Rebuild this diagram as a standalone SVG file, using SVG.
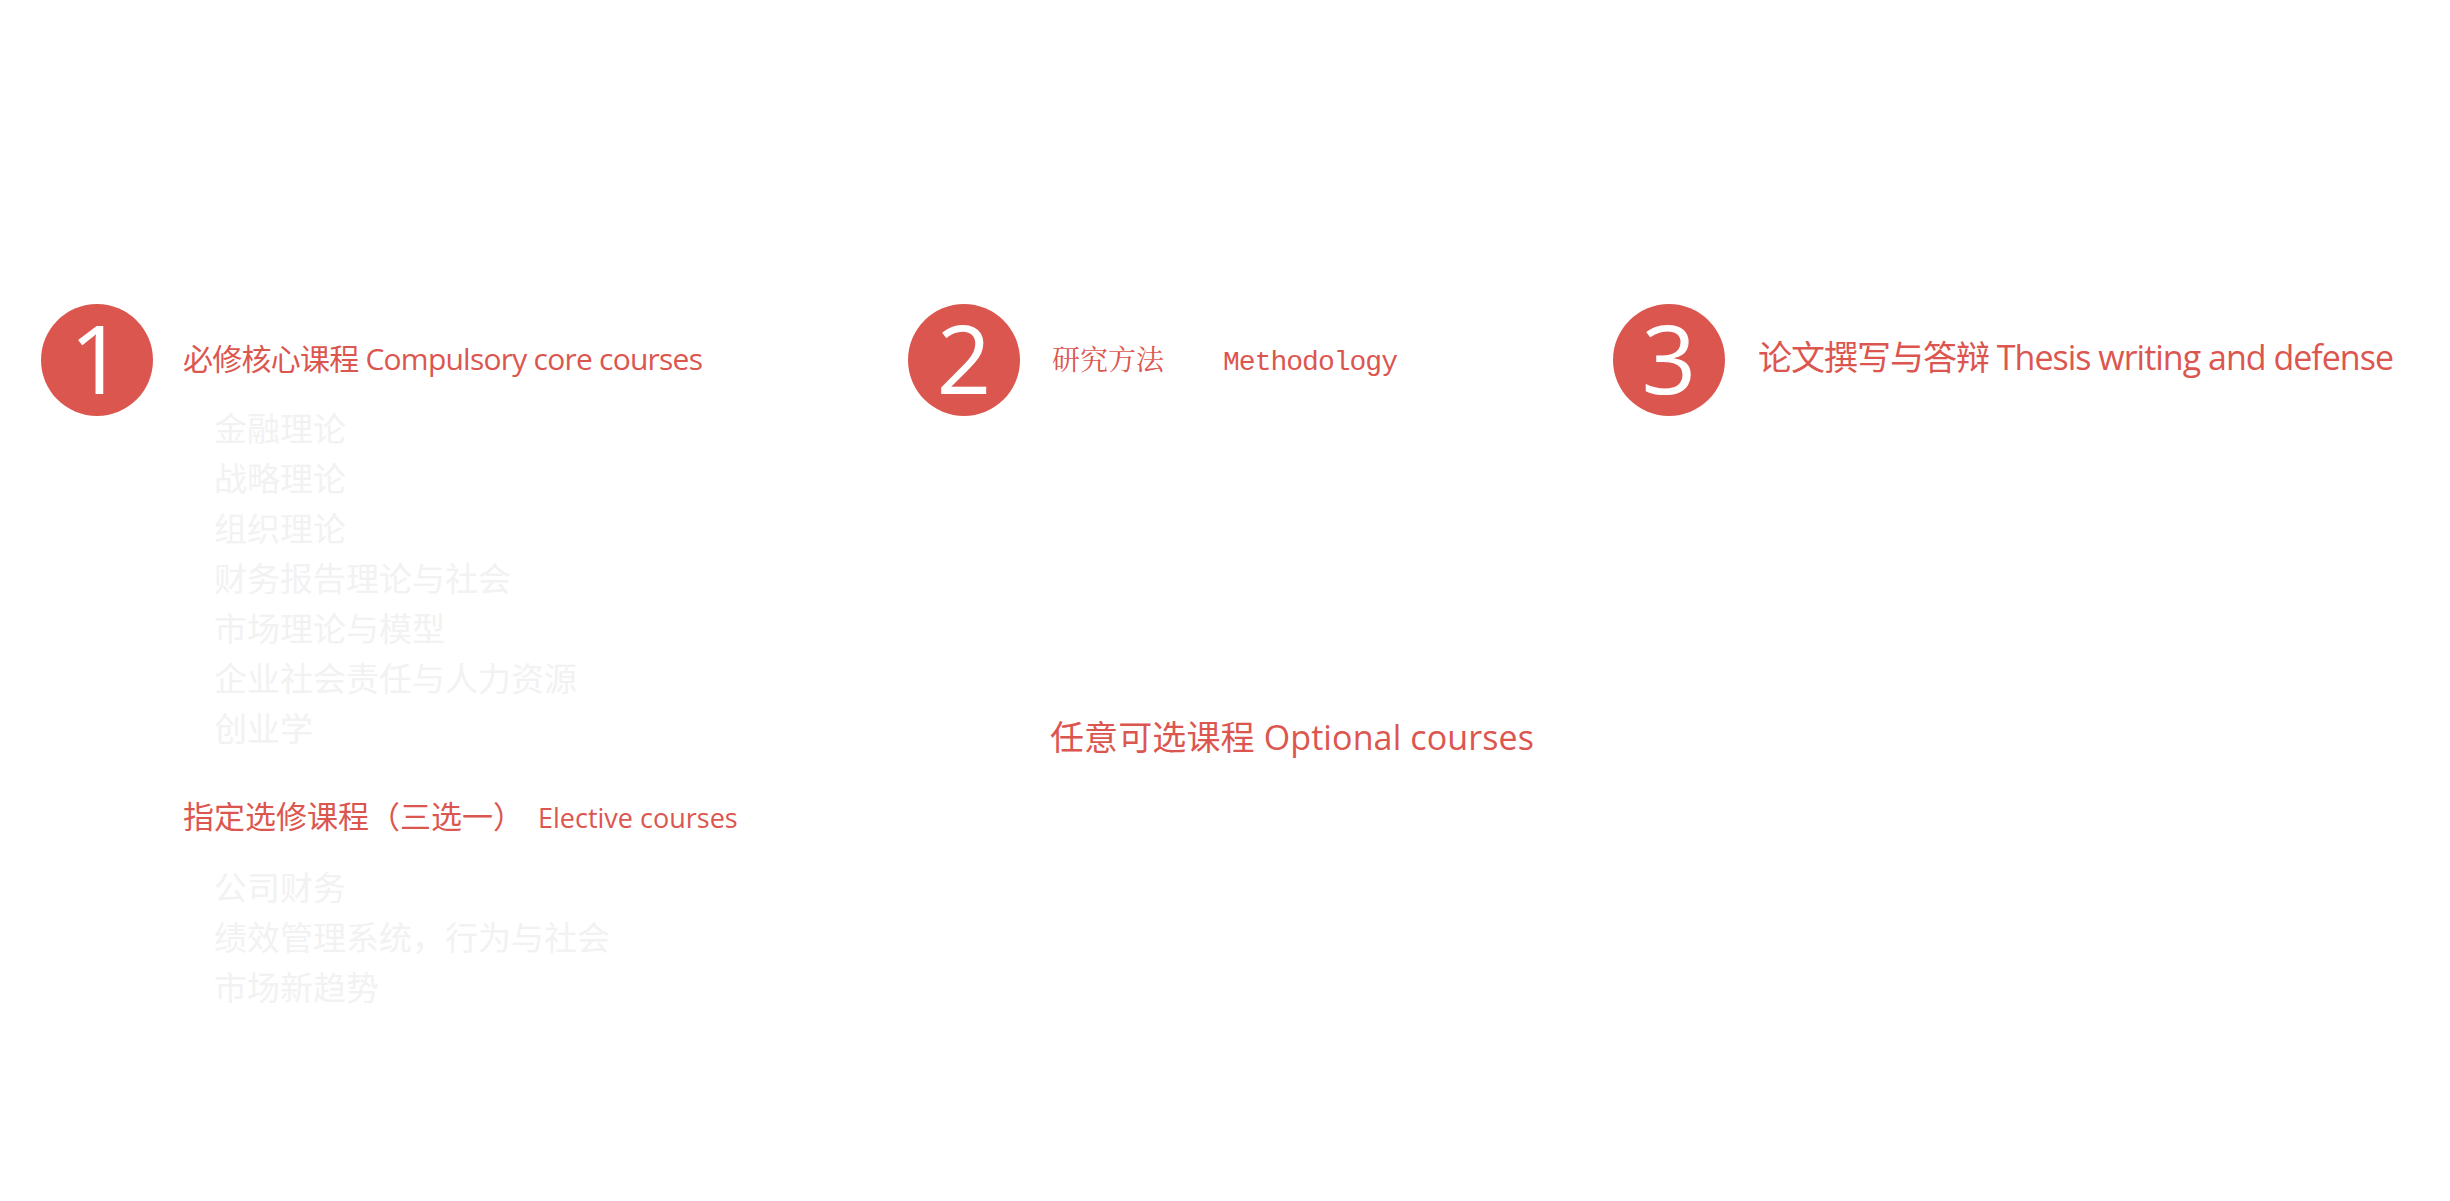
<svg xmlns="http://www.w3.org/2000/svg" width="2450" height="1201" viewBox="0 0 2450 1201">
<style>
.c{fill:#dc5650}
.n{font-family:"Open Sans","Liberation Sans",sans-serif;fill:#fff;text-anchor:middle;font-size:96px}
.h{font-family:"Open Sans","Noto Sans CJK SC",sans-serif;fill:#dc5650}
.g{font-family:"Noto Sans CJK SC",sans-serif;fill:#f2f2f2;font-size:33px}
</style>
<rect width="2450" height="1201" fill="#fff"/>
<g id="step1">
<circle class="c" cx="97" cy="360" r="56"/>
<text class="n" x="97" y="394">1</text>
<text class="h" x="183" y="370" font-size="30" textLength="520">必修核心课程 Compulsory core courses</text>
</g>
<g id="core-list" class="g">
<text class="g" x="214" y="441">金融理论</text>
<text class="g" x="214" y="491">战略理论</text>
<text class="g" x="214" y="541">组织理论</text>
<text class="g" x="214" y="591">财务报告理论与社会</text>
<text class="g" x="214" y="641">市场理论与模型</text>
<text class="g" x="214" y="691">企业社会责任与人力资源</text>
<text class="g" x="214" y="741">创业学</text>
</g>
<g id="elective">
<text class="h" x="183" y="828" font-size="31">指定选修课程（三选一）<tspan font-size="27" dx="14">Elective  courses</tspan></text>
<text class="g" x="214" y="900">公司财务</text>
<text class="g" x="214" y="950">绩效管理系统，行为与社会</text>
<text class="g" x="214" y="1000">市场新趋势</text>
</g>
<g id="step2">
<circle class="c" cx="964" cy="360" r="56"/>
<text class="n" x="964" y="394">2</text>
<text x="1052" y="370" font-size="28" fill="#dc5650" font-family="'Noto Serif CJK SC','Liberation Serif',serif">研究方法</text>
<text x="1223" y="370" font-size="28" fill="#dc5650" font-family="'Liberation Mono',monospace" textLength="175">Methodology</text>
</g>
<g id="step3">
<circle class="c" cx="1669" cy="360" r="56"/>
<text class="n" x="1669" y="394">3</text>
<text class="h" x="1758" y="370" font-size="34" textLength="636">论文撰写与答辩 Thesis writing and defense</text>
</g>
<g id="optional">
<text class="h" x="1050" y="750" font-size="34" textLength="484">任意可选课程   Optional  courses</text>
</g>
<g id="connectors"/>
</svg>
